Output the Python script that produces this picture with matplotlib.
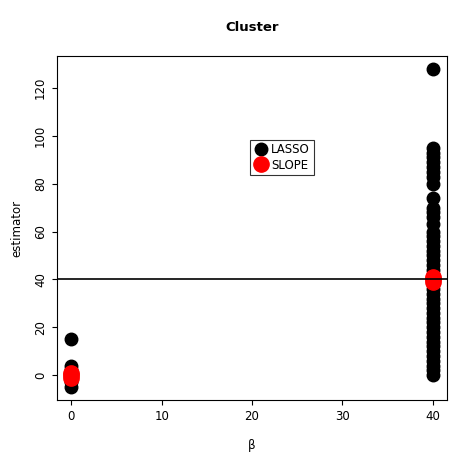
import matplotlib
matplotlib.use("Agg")
import matplotlib.pyplot as plt
from matplotlib.lines import Line2D

lasso_b0 = [15, 4, 2, 1, 0, -1, -2, -3, -5]
lasso_b40 = [128, 95, 93, 91, 89, 87, 85, 83, 80, 74, 70, 68, 66, 63, 60, 58, 56, 54, 52, 50,
             48, 46, 44, 42, 40, 38, 36, 34, 32, 30, 28, 26, 24, 22, 20, 18, 16, 14, 12, 10,
             8, 6, 4, 2, 0]
slope_b0 = [1, 0, -1]
slope_b40 = [41, 40, 39]
true_beta = 40

fig = plt.figure(figsize=(4.74, 4.72), dpi=100)
ax = fig.add_axes([0.12, 0.153, 0.823, 0.728])
ms = 9
ax.plot([0]*len(lasso_b0), lasso_b0, 'o', color='black', ms=ms)
ax.plot([40]*len(lasso_b40), lasso_b40, 'o', color='black', ms=ms)
ax.plot([0]*len(slope_b0), slope_b0, 'o', color='red', ms=ms+2)
ax.plot([40]*len(slope_b40), slope_b40, 'o', color='red', ms=ms+2)
ax.axhline(true_beta, color='black', lw=1.2)
ax.set_xlim(-1.6, 41.6)
ax.set_ylim(-10.3, 133.3)
ax.set_xticks([0, 10, 20, 30, 40])
ax.set_yticks([0, 20, 40, 60, 80, 100, 120])
for lab in ax.get_yticklabels():
    lab.set_rotation(90); lab.set_va('center')
ax.tick_params(labelsize=8.5)
ax.set_xlabel('β', fontsize=8.5, labelpad=12)
ax.set_ylabel('estimator', fontsize=8.5, labelpad=8)
ax.set_title('Cluster', fontsize=9.5, fontweight='bold', pad=18)
handles = [Line2D([], [], marker='o', ls='', color='black', ms=ms, label='LASSO'),
           Line2D([], [], marker='o', ls='', color='red', ms=ms+2, label='SLOPE')]
leg = ax.legend(handles=handles, loc='upper left', bbox_to_anchor=(0.495, 0.757),
                fancybox=False, edgecolor='black', fontsize=8.5, handletextpad=0.3,
                borderpad=0.3, labelspacing=0.2, handlelength=1.2, borderaxespad=0)
leg.get_frame().set_linewidth(0.8)
fig.savefig('out.png', dpi=100)
